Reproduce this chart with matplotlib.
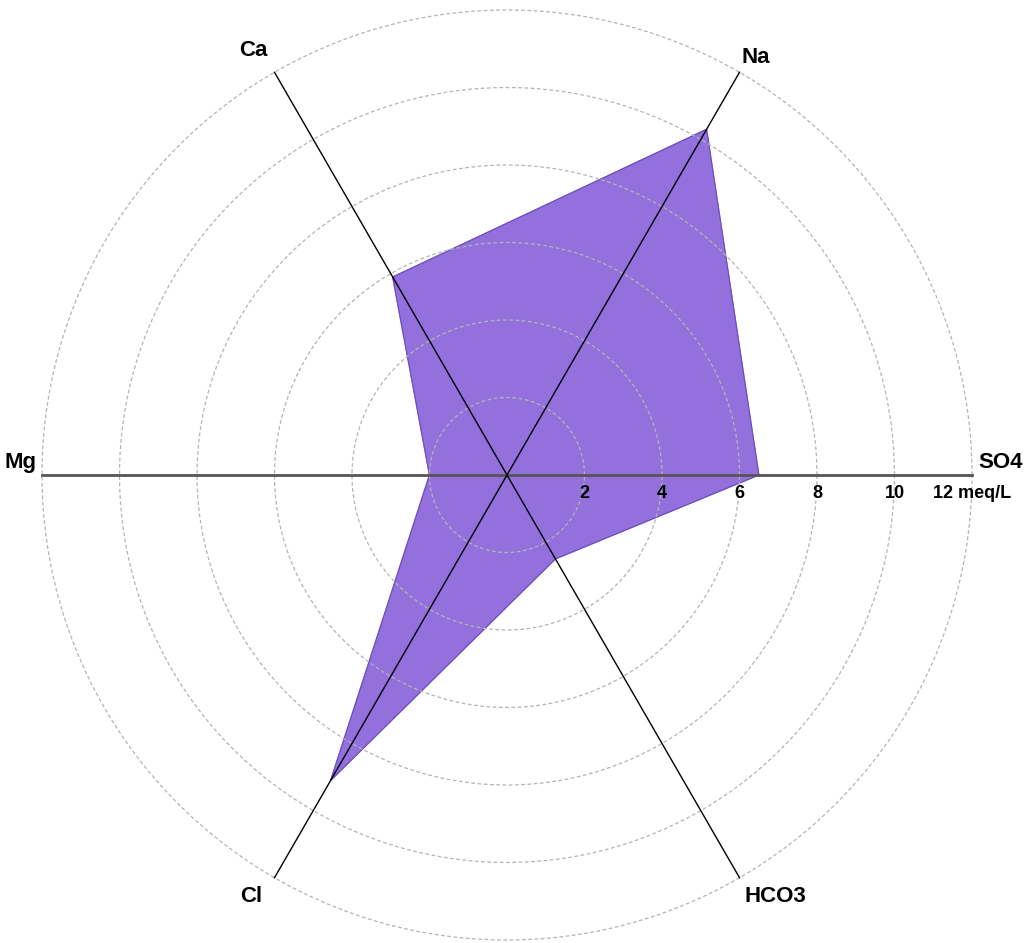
import numpy as np
import matplotlib.pyplot as plt

plt.rcParams['font.family'] = ['Liberation Sans', 'DejaVu Sans']

# ions (counter-clockwise from east) and concentrations in meq/L
ions = ['SO4', 'Na', 'Ca', 'Mg', 'Cl', 'HCO3']
values = [6.5, 10.3, 5.9, 2.0, 9.1, 2.5]
rings = [2, 4, 6, 8, 10, 12]
ring_labels = ['2', '4', '6', '8', '10', '12 meq/L']
rmax = 12

# label placement at the spoke ends: alignment and offset in pixels
label_style = {
    'SO4': ('left', 6, 12),
    'Na': ('left', 2, 15),
    'Ca': ('right', -7, 22),
    'Mg': ('right', -6, 12),
    'Cl': ('right', -12, -19),
    'HCO3': ('left', 5, -19),
}

angles = np.deg2rad(np.arange(len(ions)) * 60.0)

fig = plt.figure(figsize=(10.24, 9.43), dpi=100)
ax = fig.add_axes([42 / 1024, 3 / 943, 930 / 1024, 930 / 943], projection='polar')
ax.set_ylim(0, rmax)
ax.spines['polar'].set_visible(False)
ax.set_xticks([])
ax.set_yticks([])
ax.grid(False)

# filled polygon
ang_c = np.append(angles, angles[0])
val_c = np.append(values, values[0])
ax.fill(ang_c, val_c, color='#9370db', zorder=2)
ax.plot(ang_c, val_c, color='#6a4fc0', lw=0.8, zorder=3)

# dashed rings (drawn over the fill)
th = np.linspace(0, 2 * np.pi, 400)
for r in rings:
    ax.plot(th, np.full_like(th, r), color='#b4b4b4', lw=0.9, ls=(0, (3, 2)),
            zorder=3, clip_on=False)

# spokes and ion labels
px = 72 / 100
for a, name in zip(angles, ions):
    if name in ('SO4', 'Mg'):
        ax.plot([a, a], [0, rmax], color='#555555', lw=2.0, zorder=4, clip_on=False)
    else:
        ax.plot([a, a], [0, rmax], color='black', lw=1.0, zorder=4, clip_on=False)
    ha, dx, dy = label_style[name]
    ax.annotate(name, xy=(a, rmax), xytext=(dx * px, dy * px), textcoords='offset points',
                ha=ha, va='center', fontsize=16, fontweight='bold', annotation_clip=False)

# ring labels along the east axis
for r, lbl in zip(rings, ring_labels):
    ax.annotate(lbl, xy=(0, r), xytext=(0, -7), textcoords='offset points',
                ha='center', va='top', fontsize=13, fontweight='bold', zorder=5)

fig.savefig('out.png', dpi=100)
